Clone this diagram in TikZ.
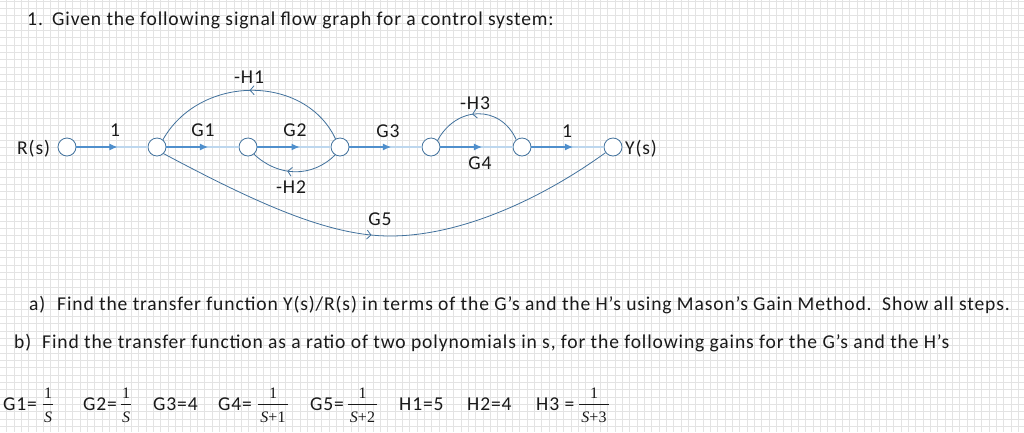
\documentclass[tikz,border=0pt]{standalone}
\usepackage{fontspec}
\setmainfont{Carlito}[LetterSpace=4.4]
\newfontfamily\serifm{Liberation Serif}
\usetikzlibrary{arrows.meta,decorations.markings,calc}
\definecolor{gridc}{HTML}{E3E3E3}
\definecolor{darkb}{HTML}{4F8FCC}
\definecolor{lightb}{HTML}{BDD7EE}
\definecolor{nodeb}{HTML}{41719C}
\definecolor{txt}{HTML}{1A1A1A}
\tikzset{
  sig/.style={circle, draw=nodeb, fill=white, minimum size=18pt, inner sep=0pt, line width=0.8pt},
  lbl/.style={font=\fontsize{19.6}{22}\selectfont, text=txt, inner sep=0pt, anchor=base},
  txtl/.style={font=\fontsize{19.6}{22}\selectfont, text=txt, inner sep=0pt, anchor=base west},
  lightedge/.style={draw=lightb, line width=2.2pt},
  darkedge/.style={draw=darkb, line width=1.1pt, -{Latex[length=8pt,width=7pt]}},
  fb/.style={draw=nodeb, line width=0.8pt, postaction={decorate},
    decoration={markings, mark=at position #1 with {\arrow{Straight Barb[length=4pt,width=9pt]}}}},
  fb/.default=0.5,
  num/.style={font=\fontsize{16}{16}\selectfont\serifm, text=txt, inner sep=0pt, anchor=base},
  den/.style={font=\fontsize{16}{16}\selectfont\serifm, text=txt, inner sep=0pt, anchor=base},
  fbar/.style={draw=txt, line width=0.7pt}
}
\begin{document}
\begin{tikzpicture}[x=1pt,y=-1pt]
\useasboundingbox (0,0) rectangle (1024,432);
\fill[white] (0,0) rectangle (1024,432);
% grid
\foreach \i in {0,...,139} \draw[gridc, line width=0.8pt] ({6.7+\i*7.33},0) -- ({6.7+\i*7.33},432);
\foreach \j in {0,...,58} \draw[gridc, line width=0.8pt] (0,{1.2+\j*7.33}) -- (1024,{1.2+\j*7.33});

% title
\node[txtl] (t1) at (27,25) {1.};
\node[txtl] (t2) at (52,25) {Given the following signal flow graph for a control system:};

% nodes
\node[sig] (r) at (67,147) {};
\node[sig] (n1) at (157,147) {};
\node[sig] (n2) at (248,147) {};
\node[sig] (n3) at (340,147) {};
\node[sig] (n4) at (431,147) {};
\node[sig] (n5) at (522,147) {};
\node[sig] (y) at (613,147) {};

% straight branches
\foreach \a/\b in {r/n1,n1/n2,n2/n3,n3/n4,n4/n5,n5/y}{
  \draw[lightedge] (\a) -- (\b);
  \draw[darkedge] (\a) -- ($(\a)!0.56!(\b)$);
}

% curved branches
\draw[fb] (n3.119) .. controls (305,74) and (200,74) .. (n1.51);
\draw[fb=0.58] (n3.238) .. controls (312,178) and (278,177) .. (n2.310);
\draw[fb=0.55] (n5.128) .. controls (500,104) and (456,106) .. (n4.45);
\draw[fb=0.47] (n1.315) .. controls (260,205) and (330,236) .. (390,236)
   .. controls (460,236) and (540,200) .. (y.217);

% labels
\node[txtl] (rs) at (17,154) {R(s)};
\node[txtl] (ys) at (625,154) {Y(s)};
\node[lbl] (l1) at (115,136) {1};
\node[lbl] (lg1) at (203,136) {G1};
\node[lbl] (lg2) at (295,136) {G2};
\node[lbl] (lg3) at (388,137) {G3};
\node[lbl] (l2) at (567,137) {1};
\node[lbl] (lh1) at (249,83) {-H1};
\node[lbl] (lh3) at (475,109) {-H3};
\node[lbl] (lg4) at (480,169) {G4};
\node[lbl] (lh2) at (291,193) {-H2};
\node[lbl] (lg5) at (380,225) {G5};

% questions
\node[txtl] (qa1) at (29,310) {a)};
\node[txtl] (qa2) at (57,310) {Find the transfer function Y(s)/R(s) in terms of the G’s and the H’s using Mason’s Gain Method.\ \ Show all steps.};
\node[txtl] (qb1) at (14,348) {b)};
\node[txtl] (qb2) at (42,348) {Find the transfer function as a ratio of two polynomials in s, for the following gains for the G’s and the H’s};

% gains
\node[txtl] (g1) at (3,410) {G1=};
\draw[fbar] (43,404) -- (53,404);
\node[num] (g1n) at (48,398) {1};
\node[den] (g1d) at (48,422) {\itshape S};

\node[txtl] (g2) at (83,410) {G2=};
\draw[fbar] (121,404) -- (131,404);
\node[num] (g2n) at (126,398) {1};
\node[den] (g2d) at (126,422) {\itshape S};

\node[txtl] (g3) at (153,410) {G3=4};

\node[txtl] (g4) at (218,410) {G4=};
\draw[fbar] (258,404) -- (288,404);
\node[num] (g4n) at (273,398) {1};
\node[den] (g4d) at (273,422) {{\itshape S}+1};

\node[txtl] (g5) at (310,410) {G5=};
\draw[fbar] (348,404) -- (377,404);
\node[num] (g5n) at (362.5,398) {1};
\node[den] (g5d) at (362.5,422) {{\itshape S}+2};

\node[txtl] (h1) at (399,410) {H1=5};
\node[txtl] (h2) at (467,410) {H2=4};
\node[txtl] (h3) at (536,410) {H3 =};
\draw[fbar] (579,404) -- (609,404);
\node[num] (h3n) at (594,398) {1};
\node[den] (h3d) at (594,422) {{\itshape S}+3};
\end{tikzpicture}
\end{document}
